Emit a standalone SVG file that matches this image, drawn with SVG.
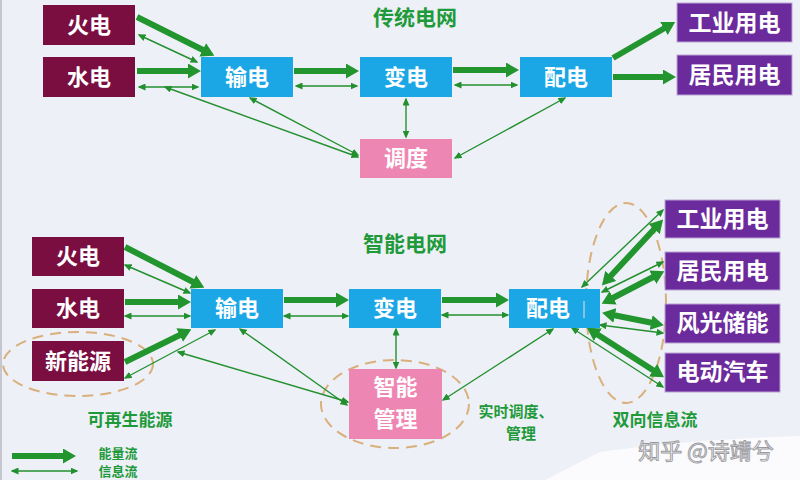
<svg xmlns="http://www.w3.org/2000/svg" width="800" height="480" viewBox="0 0 800 480">
<defs>
<style>
.bg{fill:#eef0f7}
.src{fill:#7b0e41}
.blue{fill:#1ba6e6}
.pink{fill:#ee86b3}
.purp{fill:#6c2b9c;stroke:#b9a3d6;stroke-width:1}
.lbl{font-family:"Noto Sans CJK SC","Noto Sans",sans-serif;font-weight:700;fill:#ffffff;text-anchor:middle}
.ttl{font-family:"Noto Sans CJK SC","Noto Sans",sans-serif;font-weight:700;fill:#1f9a3a;text-anchor:middle}
.thick{stroke:#22952f;stroke-width:6;fill:none;marker-end:url(#eh)}
.thick2{stroke:#22952f;stroke-width:6;fill:none;marker-end:url(#eh);marker-start:url(#eh)}
.thin{stroke:#23902f;stroke-width:1.4;fill:none;marker-end:url(#ih);marker-start:url(#ih)}
.ell{fill:none;stroke:#d9b07c;stroke-width:2;stroke-dasharray:11 7}
</style>
<marker id="eh" viewBox="0 0 13 15" refX="7" refY="7.5" markerWidth="13" markerHeight="15" markerUnits="userSpaceOnUse" orient="auto-start-reverse">
<path d="M0,0 L13,7.5 L0,15 Z" fill="#22952f"/>
</marker>
<marker id="ih" viewBox="0 0 8 7" refX="6.5" refY="3.5" markerWidth="8" markerHeight="7" markerUnits="userSpaceOnUse" orient="auto-start-reverse">
<path d="M0,0 L8,3.5 L0,7 Z" fill="#23902f"/>
</marker>
</defs>
<rect class="bg" x="0" y="0" width="800" height="480"/>
<line x1="1" y1="0" x2="1" y2="480" stroke="#b8b8c0" stroke-width="1.5"/>
<path d="M545,480 L600,452 Q680,440 800,436 L800,480 Z" fill="#fbfbfd"/>

<!-- Titles -->
<text class="ttl" x="415" y="25" font-size="21">传统电网</text>
<text class="ttl" x="405" y="251" font-size="21">智能电网</text>

<!-- Ellipses -->
<g id="ellipses">
<ellipse class="ell" cx="78" cy="364" rx="75" ry="32"/>
<ellipse class="ell" cx="395" cy="404" rx="74" ry="44"/>
<ellipse class="ell" cx="626" cy="303" rx="40" ry="100"/>
</g>

<!-- Connectors -->
<g id="connectors">
<!-- top energy -->
<line class="thick" x1="137" y1="17" x2="209" y2="53"/>
<line class="thick" x1="137" y1="71" x2="195" y2="71"/>
<line class="thick" x1="294" y1="71" x2="353" y2="71"/>
<line class="thick" x1="453" y1="70" x2="513" y2="70"/>
<line class="thick" x1="613" y1="58" x2="670" y2="25"/>
<line class="thick" x1="613" y1="77" x2="670" y2="77"/>
<!-- top info -->
<line class="thin" x1="139" y1="35" x2="197" y2="62"/>
<line class="thin" x1="139" y1="87" x2="198" y2="87"/>
<line class="thin" x1="296" y1="86" x2="357" y2="86"/>
<line class="thin" x1="455" y1="85" x2="517" y2="85"/>
<line class="thin" x1="406" y1="99" x2="406" y2="137"/>
<line class="thin" x1="565" y1="98" x2="455" y2="158"/>
<line class="thin" x1="165" y1="87" x2="358" y2="157"/>
<line class="thin" x1="250" y1="98" x2="358" y2="155"/>
<!-- bottom energy -->
<line class="thick" x1="125" y1="247" x2="199" y2="285"/>
<line class="thick" x1="125" y1="302" x2="185" y2="302"/>
<line class="thick" x1="125" y1="362" x2="186" y2="332"/>
<line class="thick" x1="284" y1="300" x2="343" y2="300"/>
<line class="thick" x1="442" y1="300" x2="503" y2="300"/>
<line class="thick2" x1="606" y1="281" x2="659" y2="224"/>
<line class="thick2" x1="607" y1="301" x2="659" y2="274"/>
<line class="thick2" x1="608" y1="314" x2="658" y2="324"/>
<line class="thick2" x1="592" y1="331" x2="659" y2="374"/>
<!-- bottom info -->
<line class="thin" x1="125" y1="265" x2="190" y2="293"/>
<line class="thin" x1="125" y1="316" x2="190" y2="316"/>
<line class="thin" x1="125" y1="378" x2="215" y2="330"/>
<line class="thin" x1="178" y1="352" x2="348" y2="402"/>
<line class="thin" x1="240" y1="329" x2="347" y2="405"/>
<line class="thin" x1="284" y1="316" x2="348" y2="316"/>
<line class="thin" x1="442" y1="315" x2="508" y2="315"/>
<line class="thin" x1="396" y1="329" x2="396" y2="368"/>
<line class="thin" x1="553" y1="329" x2="443" y2="400"/>
<line class="thin" x1="582" y1="287" x2="663" y2="210"/>
<line class="thin" x1="602" y1="292" x2="663" y2="262"/>
<line class="thin" x1="600" y1="325" x2="663" y2="333"/>
<line class="thin" x1="572" y1="328" x2="663" y2="387"/>
<!-- legend -->
<line class="thick" x1="12" y1="456" x2="70" y2="456"/>
<line class="thin" x1="12" y1="471" x2="77" y2="471"/>
</g>

<!-- Top nodes -->
<g id="t-huodian"><rect class="src" x="43" y="5" width="92" height="40"/><text class="lbl" x="89" y="33" font-size="22">火电</text></g>
<g id="t-shuidian"><rect class="src" x="43" y="57" width="92" height="40"/><text class="lbl" x="89" y="85" font-size="22">水电</text></g>
<g id="t-shudian"><rect class="blue" x="201" y="57" width="92" height="40"/><text class="lbl" x="247" y="85" font-size="22">输电</text></g>
<g id="t-biandian"><rect class="blue" x="360" y="57" width="92" height="40"/><text class="lbl" x="406" y="85" font-size="22">变电</text></g>
<g id="t-peidian"><rect class="blue" x="520" y="57" width="92" height="40"/><text class="lbl" x="566" y="85" font-size="22">配电</text></g>
<g id="t-diaodu"><rect class="pink" x="360" y="139" width="92" height="39"/><text class="lbl" x="406" y="166" font-size="22">调度</text></g>
<g id="t-gongye"><rect class="purp" x="677" y="3" width="115" height="39"/><text class="lbl" x="734.5" y="31" font-size="23">工业用电</text></g>
<g id="t-jumin"><rect class="purp" x="677" y="55" width="115" height="40"/><text class="lbl" x="734.5" y="83" font-size="23">居民用电</text></g>

<!-- Bottom nodes -->
<g id="b-huodian"><rect class="src" x="32" y="237" width="92" height="39"/><text class="lbl" x="78" y="264" font-size="22">火电</text></g>
<g id="b-shuidian"><rect class="src" x="32" y="289" width="92" height="39"/><text class="lbl" x="78" y="316" font-size="22">水电</text></g>
<g id="b-xinnengyuan"><rect class="src" x="32" y="341" width="92" height="40"/><text class="lbl" x="78" y="369" font-size="22">新能源</text></g>
<g id="b-shudian"><rect class="blue" x="191" y="289" width="92" height="39"/><text class="lbl" x="237" y="316" font-size="22">输电</text></g>
<g id="b-biandian"><rect class="blue" x="349" y="289" width="92" height="39"/><text class="lbl" x="395" y="316" font-size="22">变电</text></g>
<g id="b-peidian"><rect class="blue" x="509" y="289" width="91" height="39"/><text class="lbl" x="548" y="316" font-size="22">配电</text><line x1="584" y1="301" x2="584" y2="318" stroke="#cfd8e0" stroke-width="1.2"/></g>
<g id="b-zhineng"><rect class="pink" x="349" y="369" width="93" height="70"/><text class="lbl" x="395.5" y="395" font-size="22">智能</text><text class="lbl" x="395.5" y="427" font-size="22">管理</text></g>
<g id="b-gongye"><rect class="purp" x="665" y="200" width="115" height="38"/><text class="lbl" x="722.5" y="227" font-size="23">工业用电</text></g>
<g id="b-jumin"><rect class="purp" x="665" y="252" width="115" height="38"/><text class="lbl" x="722.5" y="279" font-size="23">居民用电</text></g>
<g id="b-fengguang"><rect class="purp" x="665" y="304" width="115" height="39"/><text class="lbl" x="722.5" y="331" font-size="23">风光储能</text></g>
<g id="b-diandong"><rect class="purp" x="665" y="353" width="115" height="39"/><text class="lbl" x="722.5" y="380" font-size="23">电动汽车</text></g>

<!-- Annotations -->
<text class="ttl" x="130" y="426" font-size="17">可再生能源</text>
<text class="ttl" x="516" y="417" font-size="15">实时调度、</text>
<text class="ttl" x="521" y="439" font-size="15">管理</text>
<text class="ttl" x="655" y="426" font-size="17">双向信息流</text>
<text class="ttl" x="118" y="458" font-size="13">能量流</text>
<text class="ttl" x="118" y="476" font-size="13">信息流</text>
<text x="706" y="459" font-family="'Noto Sans CJK SC','Noto Sans',sans-serif" font-size="22" fill="#f6f6f8" stroke="#9a9a9e" stroke-width="0.9" text-anchor="middle">知乎 @诗靖兮</text>
</svg>
